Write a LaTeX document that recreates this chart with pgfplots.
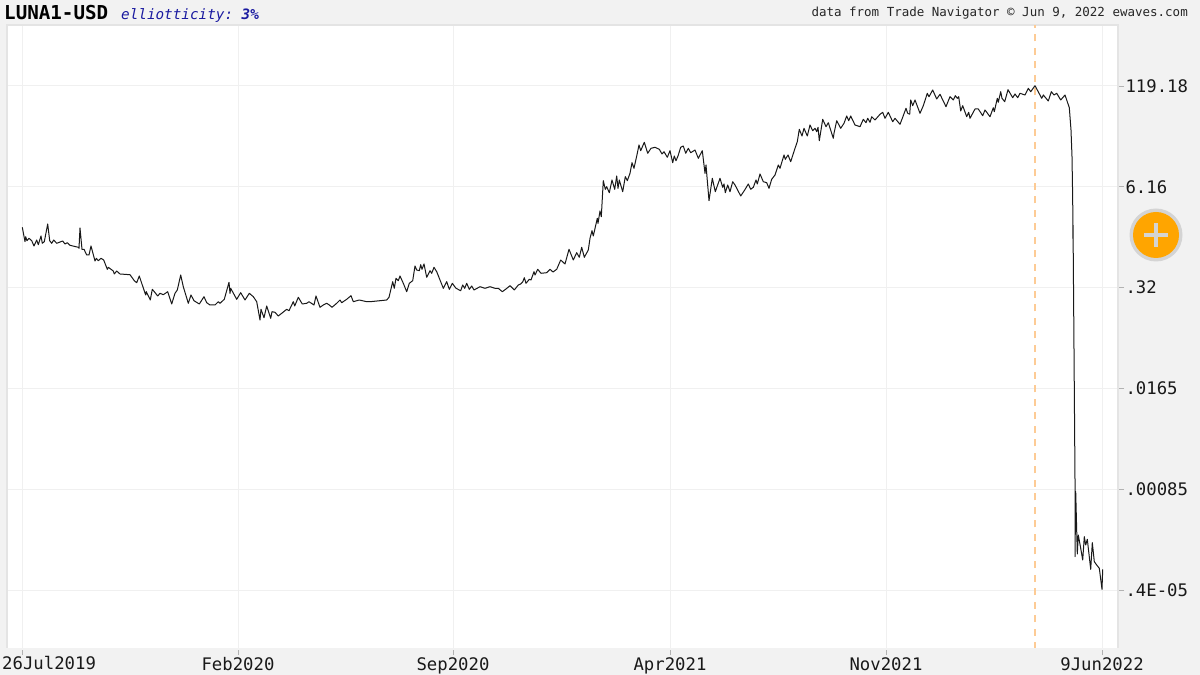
\documentclass[border=0pt]{standalone}
\usepackage{pgfplots}
\pgfplotsset{compat=1.18}
\usepackage{pgfplotstable}
\usepackage{fontspec}
\setmainfont{DejaVu Sans Mono}
\setmonofont{DejaVu Sans Mono}
\definecolor{bgc}{HTML}{F2F2F2}
\definecolor{gridc}{HTML}{F0F0F0}
\definecolor{framec}{HTML}{E4E4E4}
\definecolor{dashc}{HTML}{FDCB95}
\definecolor{bluec}{HTML}{1A1AA0}
\definecolor{btnc}{HTML}{FFA500}
\definecolor{ringc}{HTML}{D4D4D4}
% x: position along the time axis; y: position on the log price axis (100.8 units per gridline step, 0 at .4E-05)
\pgfplotstableread{
x y
22.3 362.7
25 348.3
25.7 353.3
27 349.3
29 351.7
31.7 349.3
34 344
36.7 350
38.3 345.3
41 354
42.3 346.7
44.3 348.3
47.7 366
49.7 349.3
51.7 346.7
53.7 350
56.7 346.7
62.7 349
65 346
67.3 347.3
70 344.7
78.3 342.7
79 341.7
80 362
82 340.7
84 340.7
86.7 335
89 335
91 344
95 329
96.3 331.7
98.3 329.3
101 331.7
103.7 330
107.3 320.7
108.3 322.7
113.3 319
114.3 316
116.7 319
120 316
130 315.3
134.3 309.3
136.7 307.3
139.3 314
142.3 305
145.7 295
146.3 298.3
150.3 290
152.3 300.7
154.3 298.3
157.7 294
160 296.7
163.3 295.3
167.7 298.3
171.7 286
175 296.7
177.3 300
180.7 315
183.3 303.3
188.3 286.7
191 295
194 289.3
199.3 286
204 293.3
206.7 287.3
210 285
215 285
218.3 288.3
220 286.7
224.3 290.7
229 307.7
230 296.7
230.7 301.7
236.7 290.7
240.7 297.3
245 290
249.3 296.7
253.3 293.3
256.7 288.3
260 270
261 280.7
264 272.3
266.7 284
270.7 271.7
272 278.3
275 277.7
278.3 274
281.7 276.7
286.7 280.7
289 279.3
293.3 288.3
294.7 284
298.3 292.7
302.3 286
306.7 286.7
309 288.3
314 285
316 294
320 282.7
323.3 285
326.7 286.7
329.3 285
332 282.7
336.7 286.7
340 290
341.7 287.3
346.7 290.7
351 294.3
353.3 288.3
359.3 290
366.7 288.3
370 288.3
380 289.3
386.7 290
389 292.7
392.7 308.3
394.3 301.7
396 311.7
398.3 309.3
400 314
403.3 306.7
406.7 298.3
409.3 306.7
412.7 309.3
415 324
416.7 320
419.3 319.3
420.7 325.3
422 320.7
424 326
426.7 312.7
430 319.3
431.7 316.7
434 322.7
436.7 318.3
440 310
443.3 301.7
446.7 308.3
449.3 300.7
452.3 306.7
456 301.7
460.7 299.3
462.7 305
464.7 301.7
466.7 306.7
469.3 300.7
471.7 304
474 300
480 303.3
485 301.7
490 303.3
495 301.7
498.3 301.7
502.3 298.3
506 301
510 304.3
514.3 300
518.3 305
520.7 306
522.7 308
524.3 312.3
526 306.7
529.3 310.7
531 310
534 318.3
535 315
537.7 320.7
541 316.7
546.7 317.3
550 320.7
553 318
556.7 320.7
560.7 330
565 326
569 340.7
573.3 330
576.7 337.3
579.3 332.7
581.7 342.7
584.3 332.7
588.3 340
590 351.7
592 359.3
593.3 354
597.3 371.7
598 366.7
600 379
601.3 373.3
603.3 409.3
605.3 400.7
606.7 403.3
609.3 397.3
612 410
614.7 400.7
616.7 414
618 401.7
619.3 410
622.7 398.3
625.3 413.3
627.3 409.3
630 416.7
632 427.3
634 421.7
637.3 436.7
639 445
640.7 439.3
644.3 447.7
647.7 436.7
651 441.7
655 442.7
659.3 440.7
662 436
664 438.3
667.3 432.7
670 439.3
672.7 427.3
674.3 434
676 429.3
678 434
680.7 442.7
683.3 444
685.7 436.7
688.3 441.7
690.7 437.3
695 440
698.3 431.7
702.3 439.3
705 416.7
706 425
709 389.3
712.3 411.7
715.3 398.3
720 411.7
722.7 402.7
724 406
725.3 397.3
727.7 405
730 398.3
732.7 408.3
735 405
737.3 400.7
740.7 394
744.7 400
748.3 406
750.7 400.7
753.3 402.7
756 410
757.3 406
760 416
763.3 408.3
766.7 407.3
769 401.7
771.7 410.7
775 415
778.3 425
780 421.7
784 435
785.3 430.7
788 435
790.7 428.3
795 441.7
797.3 448.3
799.3 460.7
802 454
804 461.7
807.3 454
810 465
812.7 459.3
815 461.7
816.7 458.3
818 462.7
819.3 449.3
822.7 470.7
826 463.3
828.3 467.3
833.3 451.7
834 456.7
836.7 469.3
840.7 461.7
844 466.7
846.7 474
848.7 469.3
850.7 474
855 465
860 463.3
863.3 470.7
866 467.3
867.7 471.7
870 467.7
871.7 473.3
875 470
880 475.7
882.7 477.7
885 471.7
888.3 477.7
892.7 468.3
895 471.7
900 465.7
902.3 471.7
906 481.7
907.7 476.7
909.7 475.7
910.7 490
912.7 484.3
915 490
920 476.7
923.3 484.3
927.3 496.7
929 493.3
932.7 500
936.7 491
940 495.7
946 483.3
947.3 486.7
950 493.3
953.3 490
955.3 494.3
957.3 491.7
958.7 493.3
960.7 479
962.7 484.3
966.7 473.3
968.7 477.7
970 471.7
975 481
978.3 481
982.7 474.3
985 480
990 473.3
993.3 482.3
994.3 478.3
997.3 491.7
998.3 487.7
1000.7 498.3
1002 491.7
1004.7 488.3
1008 500.3
1012.7 492.3
1015 496
1017.7 492.3
1020 496.7
1025 495
1028.3 501.7
1030.7 498.3
1035 504.3
1037.3 500
1041.7 491.7
1043.3 495
1048.3 489
1051.3 498.3
1054 495
1056.7 496.7
1060.7 490
1065 495
1069.3 482.3
1071 460
1072 433.3
1072.7 390
1073 350
1072.9 375
1073.3 330
1074 240
1075 110
1075 33.3
1075.7 98.3
1077.3 36
1078.3 55
1080.7 41.7
1082.7 30
1084.3 53.3
1085.7 45
1087.3 50.7
1090.7 20.7
1092.3 47.3
1094.3 28.3
1096.7 25
1099.3 21.7
1102 0.7
1102.7 20.7
}\pricetable
\begin{document}
\begin{tikzpicture}
\path[use as bounding box,fill=bgc] (0,0) rectangle (1200pt,675pt);
\begin{axis}[
  at={(7pt,26pt)},anchor=south west,
  width=1111pt,height=624pt,scale only axis,
  xmin=7,xmax=1118,ymin=-59,ymax=565,
  axis background/.style={fill=white},
  axis line style={draw=framec,line width=1.6pt},
  grid=major,
  major grid style={draw=gridc,line width=1pt},
  xtick={22,238,453,670,886,1102},
  xticklabels={,Feb2020,Sep2020,Apr2021,Nov2021,9Jun2022},
  ytick={0,100.8,201.6,302.4,403.2,504},
  yticklabels={.4E-05,.00085,.0165,.32,6.16,119.18},
  ticklabel style={font=\fontsize{17.3pt}{20pt}\selectfont\ttfamily,text=black!90},
  yticklabel pos=right,
  y tick label style={anchor=west,xshift=-2pt},
  x tick label style={anchor=north,yshift=1pt},
  tick style={draw=black!30,line width=0.8pt},
  tickwidth=6pt,
  xtick pos=bottom,ytick pos=right,
  tick align=outside,
  clip=true,
]
\addplot[dashc,line width=1.7pt,dash pattern=on 7pt off 6.5pt] coordinates {(1035,-59) (1035,565)};
\addplot[black!90,line width=1pt,line join=round] table[x=x,y=y] {\pricetable};
\end{axis}
\draw[bgc,line width=1.8pt] (5pt,25.6pt) -- (1119pt,25.6pt);
\node[anchor=base west,inner sep=0,font=\fontsize{17.3pt}{20pt}\selectfont\ttfamily,text=black!90] at (2pt,5.4pt) {26Jul2019};
\node[anchor=base west,inner sep=0,font=\fontsize{19.2pt}{22pt}\selectfont\ttfamily\bfseries] at (4pt,655pt) {LUNA1-USD};
\node[anchor=base west,inner sep=0,font=\fontsize{14.3pt}{17pt}\selectfont\ttfamily\itshape,text=bluec] at (121pt,655pt) {elliotticity: {\bfseries 3\%}};
\node[anchor=base east,inner sep=0,font=\fontsize{12.5pt}{15pt}\selectfont\ttfamily,text=black!85] at (1188pt,658pt) {data from Trade Navigator © Jun 9, 2022 ewaves.com};
\fill[ringc] (1156pt,440pt) circle (26.5pt);
\fill[btnc] (1156pt,440pt) circle (23pt);
\draw[ringc,line width=3.5pt] (1144pt,440pt) -- (1168pt,440pt) (1156pt,428pt) -- (1156pt,452pt);
\end{tikzpicture}
\end{document}
